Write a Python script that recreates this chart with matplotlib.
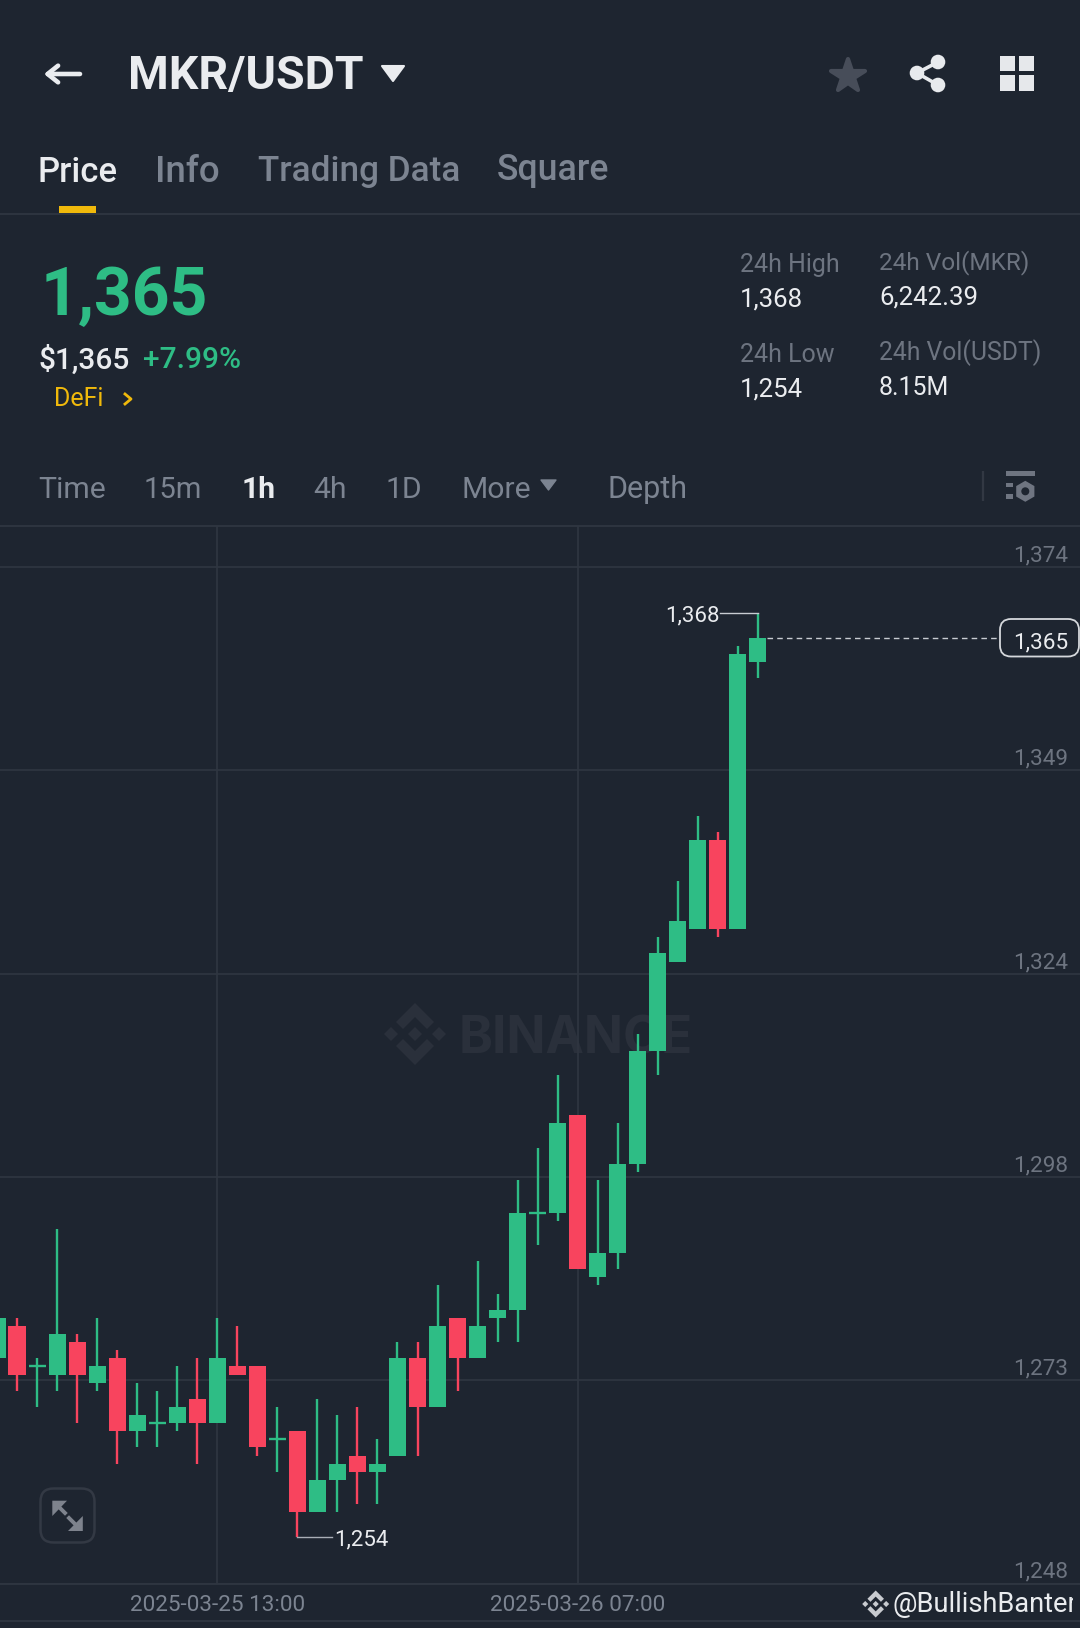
import matplotlib.pyplot as plt
from matplotlib.markers import MarkerStyle
from matplotlib.patches import FancyBboxPatch, Rectangle, Circle, Polygon, RegularPolygon

plt.rcParams['font.family'] = ['Roboto', 'DejaVu Sans']

# Hourly candles, hours counted from 2025-03-25 13:00
hours = list(range(-11, 28))
open_ = [1276, 1280, 1275, 1274, 1278, 1273, 1276, 1267, 1268, 1268, 1271, 1268, 1275,
         1275, 1266, 1267, 1257, 1261, 1264, 1262, 1264, 1276, 1270, 1281, 1276, 1281,
         1282, 1294, 1294, 1306, 1286, 1289, 1300, 1314, 1325, 1329, 1340, 1329, 1362]
high = [1281, 1281, 1276, 1292, 1279, 1281, 1277, 1273, 1272, 1275, 1276, 1281, 1280,
        1275, 1270, 1267, 1271, 1269, 1270, 1266, 1278, 1278, 1285, 1281, 1288, 1284,
        1298, 1302, 1311, 1306, 1298, 1305, 1316, 1328, 1335, 1343, 1341, 1364, 1368]
low = [1276, 1272, 1270, 1272, 1268, 1272, 1263, 1265, 1265, 1267, 1263, 1268, 1274,
       1264, 1262, 1254, 1257, 1257, 1258, 1258, 1264, 1264, 1270, 1272, 1276, 1278,
       1278, 1290, 1293, 1287, 1285, 1287, 1299, 1311, 1325, 1329, 1328, 1329, 1360]
close = [1281, 1274, 1275, 1279, 1274, 1275, 1267, 1269, 1268, 1270, 1268, 1276, 1274,
         1265, 1266, 1257, 1261, 1263, 1262, 1263, 1276, 1270, 1280, 1276, 1280, 1282,
         1294, 1294, 1305, 1287, 1289, 1300, 1314, 1326, 1330, 1340, 1329, 1363, 1365]
price_ticks = [1373.7, 1348.6, 1323.5, 1298.44, 1273.35, 1248.2]
price_labels = ['1,374', '1,349', '1,324', '1,298', '1,273', '1,248']
time_ticks = [0, 18]
time_labels = ['2025-03-25 13:00', '2025-03-26 07:00']
last_price = 1365
day_high = 1368
day_low = 1254

bg = '#1E2530'
green = '#2EBD85'
red = '#F8445E'
yellow = '#F0B90B'
grey = '#7C8491'
dim = '#6D7480'
line_c = '#2F3641'
white = '#EAECEF'

fig = plt.figure(figsize=(10.8, 16.28), dpi=100, facecolor=bg)

# Chart area
ax = fig.add_axes([0, 1 - 1583.5 / 1628, 1, (1583.5 - 525.5) / 1628], facecolor=bg)
ax.set_xlim(-10.854, 43.09)
ax.set_ylim(1248.22, 1378.84)
for s in ax.spines.values():
    s.set_visible(False)
ax.tick_params(length=0, labelleft=False, labelbottom=True, colors=grey, labelsize=16.2, pad=8)
ax.set_xticks(time_ticks, time_labels, color=grey)
ax.set_yticks(price_ticks)
ax.set_axisbelow(True)
ax.grid(True, color=line_c, lw=1.2)

for lab, p in zip(price_labels, price_ticks):
    ax.annotate(lab, (1, p), xycoords=('axes fraction', 'data'), xytext=(-8.8, 8),
                textcoords='offset points', ha='right', va='center', fontsize=16.2, color=dim)

for h, o, hi, lo, c in zip(hours, open_, high, low, close):
    col = green if c >= o else red
    ax.vlines(h, lo, hi, color=col, lw=1.7, zorder=3)
    if o == c:
        ax.hlines(c, h - 0.43, h + 0.43, color=col, lw=1.7, zorder=3)
    else:
        ax.bar(h, abs(c - o), bottom=min(o, c), width=0.86, color=col, lw=0, zorder=3)

# High / low callouts and last price line
ax.plot([25.13, 27], [day_high, day_high], color='#C8CCD2', lw=1, zorder=4)
ax.annotate('1,368', (25.13, day_high), xytext=(-0.5, -2), textcoords='offset points', ha='right',
            va='center', fontsize=16, color=white)
ax.plot([4, 5.75], [day_low, day_low], color='#A9AEB6', lw=1, zorder=4)
ax.annotate('1,254', (5.75, day_low), xytext=(1, -2.5), textcoords='offset points', ha='left',
            va='center', fontsize=16, color=white)
ax.plot([27.45, 39.1], [last_price, last_price], color='#C8CCD2', lw=1, ls=(0, (4, 3)), zorder=4)

# UI layer, in pixels
ui = fig.add_axes([0, 0, 1, 1], zorder=5)
ui.set_xlim(0, 1080)
ui.set_ylim(1628, 0)
ui.axis('off')


def txt(x, y, s, size, color, weight='normal', ha='left', **kw):
    return ui.text(x, y, s, fontsize=size, color=color, fontweight=weight, ha=ha, va='center', **kw)


def logo(target, cx, cy, r, color, zorder=1):
    # Binance mark, r is half the height of the whole mark
    k = r / 31
    shapes = [
        [(0, -7), (7, 0), (0, 7), (-7, 0)],
        [(-24, -7), (-17, 0), (-24, 7), (-31, 0)],
        [(24, -7), (31, 0), (24, 7), (17, 0)],
        [(0, -31), (19, -12), (12, -5), (0, -17), (-12, -5), (-19, -12)],
        [(0, 31), (19, 12), (12, 5), (0, 17), (-12, 5), (-19, 12)],
    ]
    for pts in shapes:
        target.add_patch(Polygon([(cx + k * a, cy + k * b) for a, b in pts], closed=True, fc=color,
                                 lw=0, zorder=zorder, transform=ui.transData))


# Faint Binance watermark goes under the candles
logo(ax, 415, 1034, 31, '#2A303B', zorder=0.5)
ax.text(459, 1034, 'BINANCE', transform=ui.transData, ha='left', va='center_baseline', fontsize=37,
        fontweight='bold', color='#2A303B', family='Inter', zorder=0.5)

ui.hlines([214, 525.5, 1583.5, 1620.7], 0, 1080, color=line_c, lw=1.3)

# Header
ui.annotate('', (44, 74), (80, 74), arrowprops=dict(arrowstyle='->,head_length=0.75,head_width=0.6',
                                                   color=white, lw=3.3, shrinkA=0, shrinkB=0))
txt(128, 76, 'MKR/USDT', 33.4, white, 'bold')
ui.add_patch(Polygon([(382, 66), (404, 66), (393, 81)], closed=True, fc=white, ec=white, lw=1.5, joinstyle='round'))
ui.plot([847.5], [75.5], marker=MarkerStyle('*', joinstyle='round'), ms=25, color='#474D59', mec='#474D59', mew=3)
for cx, cy in [(938, 62), (917, 73), (938, 85)]:
    ui.add_patch(Circle((cx, cy), 7.3, color='#E8EAED', lw=0))
ui.plot([938, 917, 938], [62, 73, 85], color='#E8EAED', lw=2.6)
for gx in [1000, 1019]:
    for gy in [56, 75.3]:
        ui.add_patch(Rectangle((gx, gy), 15.3, 15.3, color='#E6E8EB', lw=0))

# Tabs
txt(38, 172, 'Price', 25, white, 'medium')
txt(155, 172, 'Info', 26.5, grey, 'medium')
txt(258, 171, 'Trading Data', 25.3, grey, 'medium')
txt(497, 171, 'Square', 25.7, grey, 'medium')
ui.add_patch(Rectangle((59, 205.5), 37, 7.5, color=yellow, lw=0))

# Price block
txt(41, 297, '1,365', 47.5, green, 'bold')
txt(38, 360, '$1,365', 21.5, white, 'medium')
txt(143, 360, '+7.99%', 21.5, green, 'medium')
txt(54, 399, 'DeFi', 18, yellow)
ui.plot([125, 131, 125], [394, 399, 404], color=yellow, lw=2)

txt(740, 265, '24h High', 18, dim)
txt(740, 300, '1,368', 18.6, white)
txt(879, 263, '24h Vol(MKR)', 17.6, dim)
txt(879, 298, '6,242.39', 18.6, white)
txt(740, 355, '24h Low', 18, dim)
txt(740, 390, '1,254', 18.6, white)
txt(879, 353, '24h Vol(USDT)', 17.8, dim)
txt(879, 388, '8.15M', 18, white)

# Interval bar
txt(38, 490, 'Time', 21.7, grey)
txt(144, 490, '15m', 21, grey)
txt(242, 490, '1h', 21.7, white, 'bold')
txt(313, 490, '4h', 21.7, grey)
txt(386, 490, '1D', 21.7, grey)
txt(461, 490, 'More', 21.7, grey)
ui.add_patch(Polygon([(541, 480), (556, 480), (548.5, 490)], closed=True, fc=grey, ec=grey, lw=1, joinstyle='round'))
txt(607, 490, 'Depth', 22, grey)
ui.vlines(983, 471, 501, color='#323843', lw=1.6)
ui.add_patch(Rectangle((1006, 471), 29, 5, color='#6F7581', lw=0))
ui.add_patch(Rectangle((1006, 482.7), 7, 4.5, color='#6F7581', lw=0))
ui.add_patch(Rectangle((1006, 494), 7, 4.5, color='#6F7581', lw=0))
ui.add_patch(RegularPolygon((1025.3, 491.3), 6, radius=10.5, color='#6F7581', lw=0))
ui.add_patch(Circle((1025.3, 491.3), 4, color=bg, lw=0))

# Current price pill
ui.add_patch(FancyBboxPatch((1000, 619), 79, 37.5, boxstyle='round,pad=0,rounding_size=11',
                            fc=bg, ec='#D5D8DC', lw=1.3))
txt(1068, 643, '1,365', 16.2, white, ha='right')

# Expand button
ui.add_patch(FancyBboxPatch((40.5, 1488.5), 54, 54, boxstyle='round,pad=0,rounding_size=13',
                            fc=bg, ec='#333944', lw=1.8))
ui.add_patch(Polygon([(52.3, 1500.7), (67, 1500.7), (52.3, 1516)], closed=True, color='#7E838D', lw=0))
ui.add_patch(Polygon([(82.8, 1531), (68, 1531), (82.8, 1516)], closed=True, color='#7E838D', lw=0))
ui.plot([57, 65], [1505, 1513], color='#7E838D', lw=2.8)
ui.plot([69, 78], [1518, 1527], color='#7E838D', lw=2.8)

# Credit in the corner, cut off on the right as in the screenshot
logo(ui, 875.7, 1604, 13.5, '#C8CBD0', zorder=6)
txt(893, 1604, '@BullishBanter', 19.6, white)
ui.add_patch(Rectangle((1073, 1590), 7, 28, color=bg, lw=0, zorder=7))

fig.savefig('out.png', dpi=100, facecolor=bg)
